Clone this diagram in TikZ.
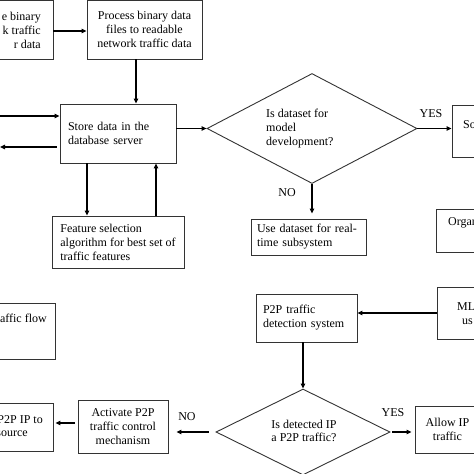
\documentclass[tikz,border=0pt]{standalone}
\usepackage{fontspec}
\setmainfont{Liberation Serif}
\usetikzlibrary{arrows.meta,shapes.geometric}
\begin{document}
\begin{tikzpicture}[x=1pt,y=-1pt,
  font=\fontsize{12}{14}\selectfont,
  box/.style={draw=black!80, line width=0.9pt, inner sep=0pt},
  dia/.style={diamond, draw=black!80, line width=0.9pt, inner sep=0pt},
  txt/.style={inner sep=0pt, align=left},
  arr/.style={line width=1.4pt, -{Triangle[length=5pt,width=4.5pt]}},
  lbl/.style={inner sep=0pt}]
\useasboundingbox (0,0) rectangle (474,474);
\clip (0,0) rectangle (474,474);

% top row
\node[box, minimum width=116pt, minimum height=59pt] (b1) at (-5,29.5) {};
\node[txt, align=right, anchor=east] (b1t) at (41,30) {e binary\\k traffic\hspace{2pt}\\r data\hspace{5pt}};
\node[box, minimum width=115pt, minimum height=59pt, align=center] (proc) at (144.5,29.5) {Process binary data\\files to readable\\network traffic data};

% store and feature
\node[box, minimum width=116pt, minimum height=59pt, text width=100pt, inner xsep=8pt, align=left] (store) at (118,133.5) {Store data in the\\database server};
\node[box, minimum width=132pt, minimum height=52pt, align=left] (feat) at (118,242) {Feature selection\\algorithm for best set of\\traffic features};

% decision 1
\node[dia, minimum width=210pt, minimum height=110pt] (d1) at (312,128.5) {};
\node[txt, anchor=west] (d1t) at (266,129) {Is dataset for\\model\\development?};
\node[lbl] (yes1) at (431,114) {YES};
\node[box, minimum width=90pt, minimum height=52pt] (sbox) at (497,131) {};
\node[txt, anchor=west] (sboxt) at (463,125) {So};
\node[lbl] (no1) at (287,193) {NO};
\node[box, minimum width=115pt, minimum height=36pt, text width=103pt, inner xsep=6pt, align=left] (use) at (308.5,237) {Use dataset for real-\\time subsystem};
\node[box, minimum width=104pt, minimum height=43pt] (org) at (488,230.5) {};
\node[txt, anchor=west] (orgt) at (448,223) {Organ};

% middle row
\node[box, minimum width=115pt, minimum height=56pt] (flow) at (-2.5,331) {};
\node[txt, anchor=east] (flowt) at (47,318) {affic flow};
\node[box, minimum width=104pt, minimum height=52pt] (ml) at (489,313) {};
\node[txt, anchor=west] (mlt1) at (457,307) {ML};
\node[txt, anchor=west] (mlt2) at (462,322) {us};
\node[box, minimum width=101pt, minimum height=48pt, text width=87pt, inner xsep=7pt, align=left] (p2p) at (306.5,318) {P2P traffic\\detection system};

% decision 2
\node[dia, minimum width=174pt, minimum height=86pt] (d2) at (303,432) {};
\node[txt, align=center, font=\fontsize{12}{12.5}\selectfont] (d2t) at (304,431) {Is detected IP\\a P2P traffic?};
\node[lbl] (yes2) at (393,413) {YES};
\node[box, minimum width=65pt, minimum height=47pt, align=center] (allow) at (447.5,429.5) {Allow IP\\traffic};
\node[lbl] (no2) at (187,417) {NO};
\node[box, minimum width=90pt, minimum height=53pt, align=center] (act) at (123,426.5) {Activate P2P\\traffic control\\mechanism};
\node[box, minimum width=115pt, minimum height=48pt] (blk) at (-4.5,427) {};
\node[txt, anchor=east] (blkt1) at (43,420) {P2P IP to};
\node[txt, anchor=east] (blkt2) at (28,434) {source};

% helper coordinates
\coordinate (inL) at (0,116);
\coordinate (outL) at (0,147);
\coordinate (c1) at (136,59);
\coordinate (c2) at (87,163);
\coordinate (c3) at (156,216);
\coordinate (c4) at (75,423);

% connectors
\draw[arr] ([yshift=-1.5pt]b1.east) -- ([yshift=-1.5pt]proc.west);
\draw[arr] (c1) -- (c1 |- store.north);
\draw[arr] (inL) -- (inL -| store.west);
\draw[arr, shorten <=3pt] (outL -| store.west) -- (outL);
\draw[arr] (d1.west -| store.east) -- (d1.west);
\draw[arr] (c2 |- store.south) -- (c2 |- feat.north);
\draw[arr] (c3 |- feat.north) -- (c3 |- store.south);
\draw[arr] (d1.east) -- (d1.east -| sbox.west);
\draw[arr, shorten >=5pt] (d1.south) -- (d1.south |- use.north);
\draw[arr] (ml.west) -- (ml.west -| p2p.east);
\draw[arr] (d2.north |- p2p.south) -- (d2.north);
\draw[arr, shorten <=2pt, shorten >=3pt] (d2.east) -- (d2.east -| allow.west);
\draw[arr, shorten <=7pt, shorten >=8pt] (d2.west) -- (d2.west -| act.east);
\draw[arr, shorten >=2pt] (c4) -- (c4 -| blk.east);
\end{tikzpicture}
\end{document}
